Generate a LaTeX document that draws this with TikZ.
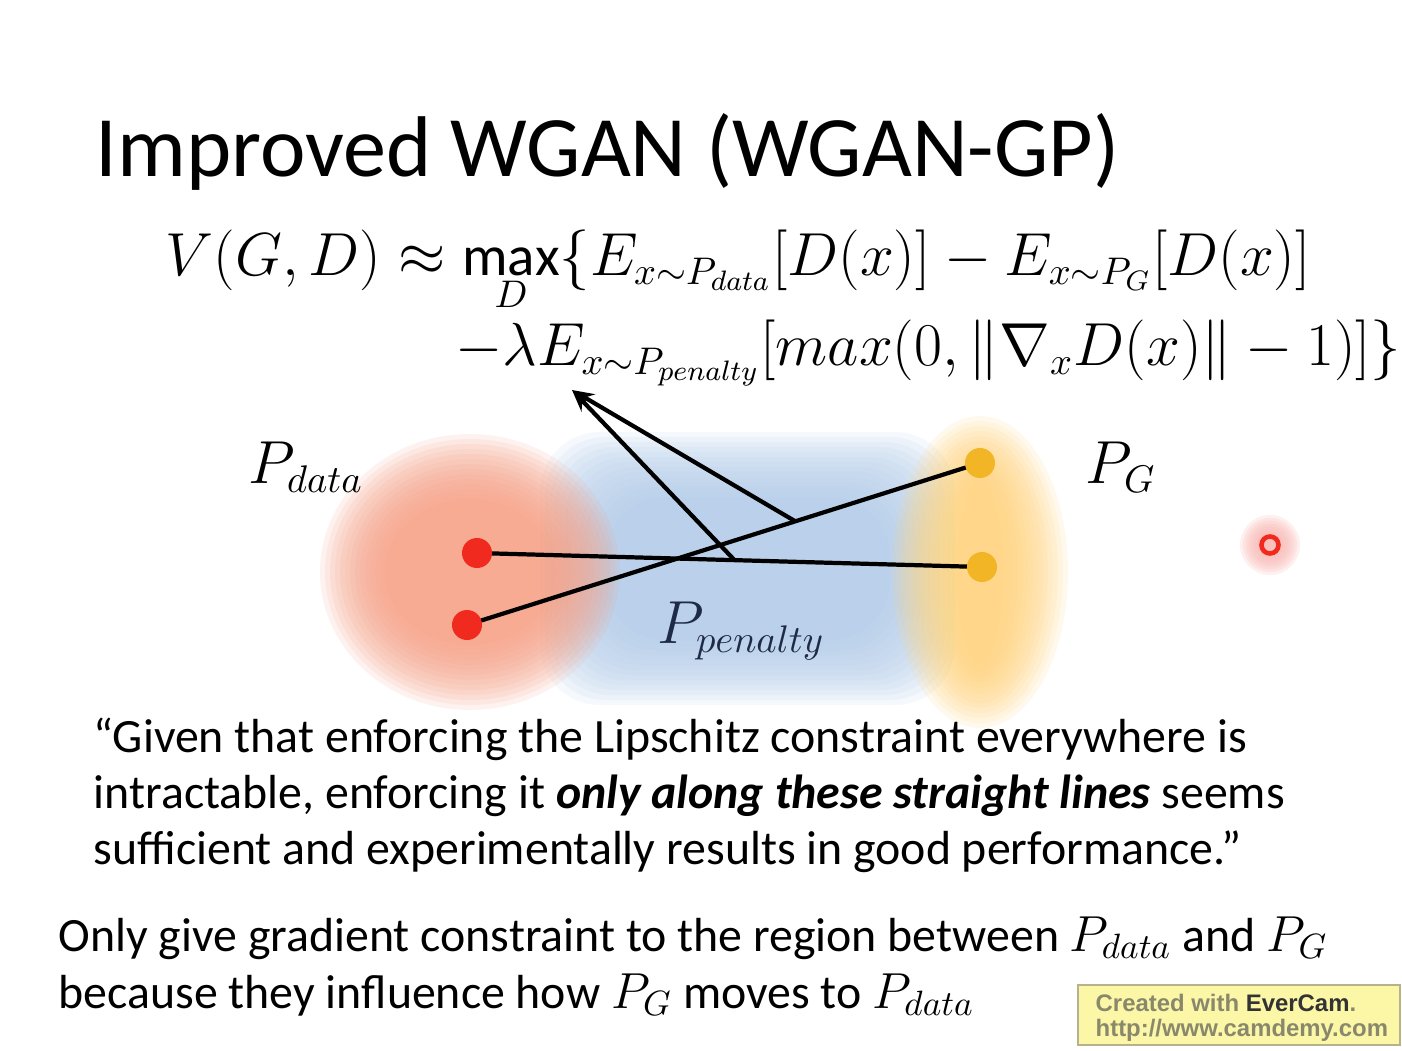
\documentclass[tikz,border=0pt]{standalone}
\usepackage{fontspec}
\setmainfont{Carlito}
\setsansfont{Liberation Sans}
\usepackage{tikz}
\usetikzlibrary{arrows.meta,positioning,calc}
\definecolor{wgrouge}{HTML}{F02A1E}
\definecolor{wgsaumon}{HTML}{F7A085}
\definecolor{wgbleu}{HTML}{B4CDEB}
\definecolor{wgjaune}{HTML}{FFD37A}
\definecolor{wgor}{HTML}{F2B526}
\definecolor{wgnavy}{HTML}{1E2A48}
\definecolor{wgstamp}{HTML}{FBF7A6}
\definecolor{wgstampbord}{HTML}{B5B28C}
\definecolor{wgstamptxt}{HTML}{8A886C}

\begin{document}
\begin{tikzpicture}[x=0.01cm,y=-0.01cm,font=\fontsize{13.6}{16.2}\selectfont,
  txt/.style={inner sep=0pt,anchor=base west},
  eq/.style={txt,font=\fontsize{16.2}{19}\selectfont},
  ptdata/.style={circle,fill=wgrouge,inner sep=0pt,minimum size=0.3cm},
  ptgen/.style={circle,fill=wgor,inner sep=0pt,minimum size=0.3cm},
  link/.style={line width=1.2pt,black},
  lab/.style={txt,font=\fontsize{16}{18}\selectfont}]
  \useasboundingbox[fill=white] (0,0) rectangle (1402,1051);
  % blurred blobs
  \foreach \k in {0,...,13} {\fill[wgbleu,opacity=0.13,rounded corners=0.6cm] ({540+5*\k},{432+5*\k}) rectangle ({955-5*\k},{705-5*\k});}
  \foreach \k in {0,...,13} {\fill[wgsaumon,opacity=0.13] (470,572) ellipse ({150-5*\k} and {138-5*\k});}
  \foreach \k in {0,...,13} {\fill[wgjaune,opacity=0.13] (980,572) ellipse ({88-5*\k} and {156-5*\k});}
  \foreach \k in {0,...,7} {\fill[wgrouge!35,opacity=0.2] (1270,545) circle ({30-2.8*\k});}
  % title and formula
  \node[txt,font=\fontsize{24.5}{30}\selectfont] (title) at (95,176) {Improved WGAN (WGAN-GP)};
  \node[eq] (eqone) at (165,275) {$V(G,D)\approx\max\limits_D\{E_{x\sim P_{data}}[D(x)]-E_{x\sim P_G}[D(x)]$};
  \node[eq] (eqtwo) at (455,365) {$-\lambda E_{x\sim P_{penalty}}[max(0,\|\nabla_x D(x)\|-1)]\}$};
  \coordinate (tip) at (572,390);
  % samples and straight lines
  \coordinate (r1) at (477,553); \coordinate (r2) at (467,625);
  \coordinate (g1) at (980,463); \coordinate (g2) at (982,567);
  \draw[link] (r1) -- (g2);
  \draw[link] (r2) -- (g1);
  \coordinate (m1) at ($(r1)!0.51!(g2)$);
  \coordinate (m2) at ($(r2)!0.64!(g1)$);
  \draw[link,-{Stealth[length=0.22cm,width=0.16cm]}] (m1) -- (tip);
  \draw[link,-{Stealth[length=0.22cm,width=0.16cm]}] (m2) -- (tip);
  \node[ptdata] (r1dot) at (r1) {};
  \node[ptdata] (r2dot) at (r2) {};
  \node[ptgen] (g1dot) at (g1) {};
  \node[ptgen] (g2dot) at (g2) {};
  \node[circle,draw=wgrouge,line width=1.3pt,inner sep=0pt,minimum size=0.17cm] (ring) at (1270,545) {};
  % labels
  \node[lab] (pdata) at (248,483) {$P_{data}$};
  \node[lab] (pg) at (1085,483) {$P_G$};
  \node[lab,wgnavy] (ppen) at (657,643) {$P_{penalty}$};
  % quote
  \node[txt] (q1) at (93,752) {``Given that enforcing the Lipschitz constraint everywhere is};
  \node[txt] (q2) at (93,808) {intractable, enforcing it \textbf{\textit{only along these straight lines}} seems};
  \node[txt] (q3) at (93,864) {sufficient and experimentally results in good performance.''};
  \node[txt] (n1) at (58,951) {Only give gradient constraint to the region between $P_{data}$ and $P_G$};
  \node[txt] (n2) at (58,1008) {because they influence how $P_G$ moves to $P_{data}$};
  % stamp
  \draw[wgstampbord,fill=wgstamp,line width=0.5pt] (1078,985) rectangle (1400,1045);
  \node[txt,font=\sffamily\bfseries\fontsize{6.8}{8}\selectfont,wgstamptxt] (stampa) at (1095,1011) {Created with \textcolor{black!80}{EverCam}.};
  \node[txt,font=\sffamily\bfseries\fontsize{6.8}{8}\selectfont,wgstamptxt] (stampb) at (1095,1036) {http://www.camdemy.com};
\end{tikzpicture}
\end{document}
